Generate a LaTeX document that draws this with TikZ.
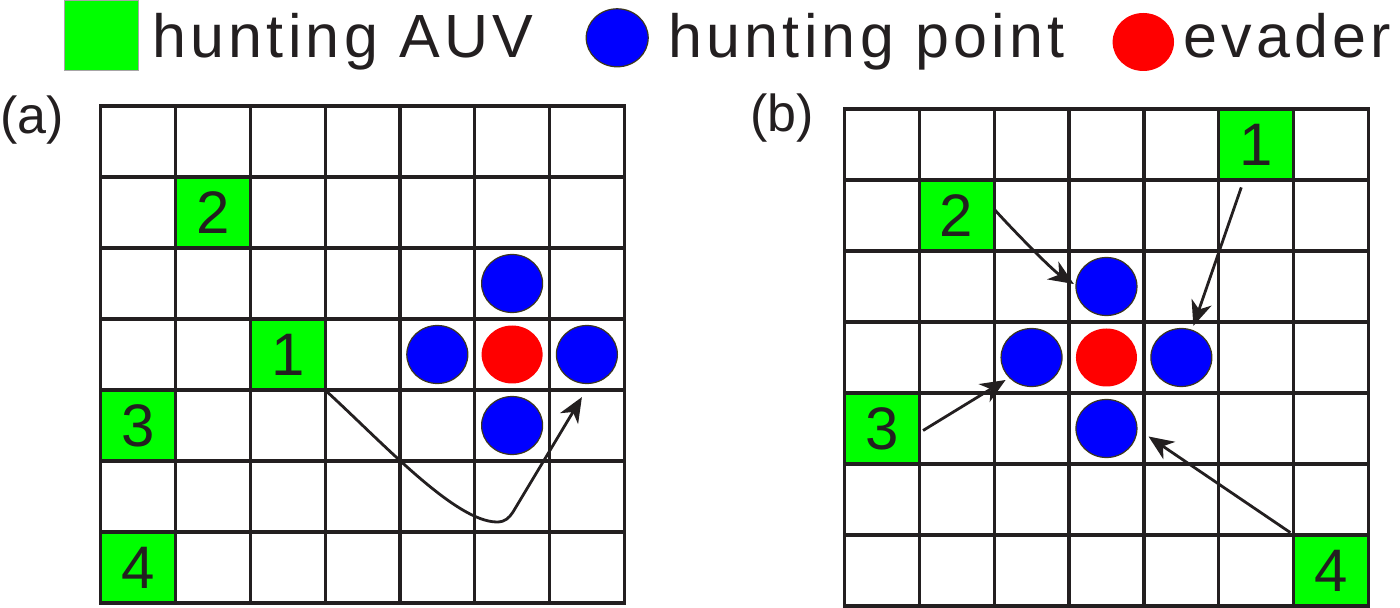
\documentclass[tikz,border=0pt]{standalone}
\usepackage{fontspec}
\setmainfont{Liberation Sans}
\newfontfamily\lgfont[LetterSpace=7]{Liberation Sans}
\usetikzlibrary{shapes.geometric,arrows.meta,calc}
\definecolor{ink}{RGB}{35,31,32}
\definecolor{auvgreen}{RGB}{0,255,0}
\definecolor{hpblue}{RGB}{0,0,255}
\definecolor{evred}{RGB}{255,0,0}
\definecolor{rim}{RGB}{60,55,30}
\begin{document}
\begin{tikzpicture}[x=0.5pt,y=-0.5pt,
 auv/.style={rectangle, fill=auvgreen, inner sep=0pt, minimum width=37.4pt, minimum height=35.5pt, font=\fontsize{30}{30}\selectfont, text=ink},
 hpt/.style={ellipse, fill=hpblue, draw=rim, line width=0.6pt, inner sep=0pt, minimum width=30.5pt, minimum height=29pt},
 evd/.style={ellipse, fill=evred, inner sep=0pt, minimum width=30.5pt, minimum height=29pt},
 gl/.style={draw=ink, line width=1.6pt},
 mv/.style={draw=ink, line width=1.4pt, -{Stealth[length=12.5pt,width=10.5pt,inset=3.8pt]}},
 lgtext/.style={anchor=base west, inner sep=0pt, font=\lgfont\fontsize{30.5}{30.5}\selectfont, text=ink},
 pan/.style={anchor=base west, inner sep=0pt, font=\fontsize{26}{26}\selectfont, text=ink}]
\useasboundingbox (0,0) rectangle (1400,608);

% legend
\node[rectangle, fill=auvgreen, draw=ink!40, line width=0.4pt, inner sep=0pt, minimum width=37.35pt, minimum height=35.35pt] (lgauv) at (101.35,35.35) {};
\node[lgtext] (lgauvt) at (152,58) {hunting AUV};
\node[hpt, minimum width=31pt, minimum height=29pt] (lghp) at (617.2,37.8) {};
\node[lgtext] (lghpt) at (668,58) {hunting point};
\node[evd, minimum width=30.7pt, minimum height=29pt] (lgev) at (1143.3,42) {};
\node[lgtext] (lgevt) at (1183,58) {evader};

% panel labels
\node[pan] (laba) at (0,134) {(a)};
\node[pan] (labb) at (750,132) {(b)};

% panel (a) AUVs
\node[auv] (a2) at (212.9,212.5) {2};
\node[auv] (a1) at (287.7,354.5) {1};
\node[auv] (a3) at (138.1,425.5) {3};
\node[auv] (a4) at (138.1,567.5) {4};
% panel (b) AUVs
\node[auv] (b1) at (1256.25,144.5) {1};
\node[auv] (b2) at (956.65,215.5) {2};
\node[auv] (b3) at (881.75,428.5) {3};
\node[auv] (b4) at (1331.15,570.5) {4};

% grids
\foreach \i in {1,...,6} {
  \draw[gl] (100.7+74.8*\i,106) -- (100.7+74.8*\i,603);
  \draw[gl] (100.7,106+71*\i) -- (624.3,106+71*\i);
  \draw[gl] (844.3+74.9*\i,109) -- (844.3+74.9*\i,606);
  \draw[gl] (844.3,109+71*\i) -- (1368.3,109+71*\i);
}
\draw[gl] (100.7,106) rectangle (624.3,603);
\draw[gl] (844.3,109) rectangle (1368.3,606);

% panel (a) points
\node[hpt] (pat) at (512.1,283.5) {};
\node[hpt] (pal) at (437.3,354.5) {};
\node[evd] (eva) at (512.1,354.5) {};
\node[hpt] (par) at (586.9,354.5) {};
\node[hpt] (pab) at (512.1,425.5) {};
% panel (b) points
\node[hpt] (pbt) at (1106.45,286.5) {};
\node[hpt] (pbl) at (1031.55,357.5) {};
\node[evd] (evb) at (1106.45,357.5) {};
\node[hpt] (pbr) at (1181.35,357.5) {};
\node[hpt] (pbb) at (1106.45,428.5) {};

% arrows
\coordinate (tipa) at ($(par.south)+(-5,13)$);
\draw[mv] (a1.south east) .. controls (380,440) and (455,522) .. (497,522)
  .. controls (505,522) and (509,518) .. (513,512) -- (tipa);

\coordinate (s1) at ($(b1.south)+(-15,7)$);
\coordinate (t1) at ($(pbr.north)+(12,-2)$);
\draw[mv] (s1) -- (t1);

\coordinate (s2) at ($(b2.east)+(0,-6)$);
\coordinate (t2) at ($(pbt.west)+(-1.5,-2.5)$);
\draw[mv] (s2) .. controls (1011,228) and (1052,270) .. (t2);

\coordinate (s3) at ($(b3.east)+(3.5,2)$);
\coordinate (t3) at ($(pbl.center)+(-26,22.5)$);
\draw[mv] (s3) -- (t3);

\coordinate (t4) at ($(pbb.east)+(11,8)$);
\draw[mv] ($(b4.north west)+(-3,-2)$) -- (t4);
\end{tikzpicture}
\end{document}
